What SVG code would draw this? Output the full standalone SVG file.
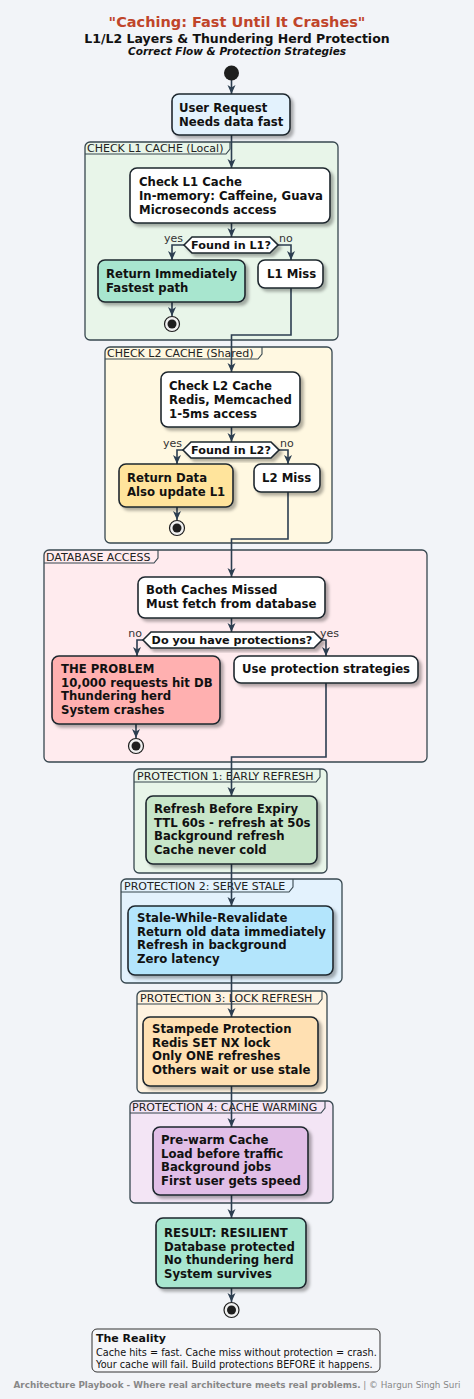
<svg xmlns="http://www.w3.org/2000/svg" width="474" height="1399" viewBox="0 0 474 1399">
<defs>
<filter id="sh" x="-10%" y="-10%" width="130%" height="140%"><feDropShadow dx="3" dy="3" stdDeviation="1.5" flood-color="#000" flood-opacity="0.3"/></filter>
<marker id="ah" markerWidth="10" markerHeight="10" refX="9" refY="5" orient="auto" markerUnits="userSpaceOnUse"><path d="M0,1 L9,5 L0,9 L2.5,5 z" fill="#2C3E50"/></marker>
<style>
.t{font-family:"DejaVu Sans",Verdana,sans-serif;}
.nb{font-family:"DejaVu Sans",sans-serif;font-weight:bold;font-size:11.7px;fill:#111;}
.db{font-family:"DejaVu Sans",sans-serif;font-weight:bold;font-size:11.2px;fill:#111;}
.lbl{font-family:"DejaVu Sans",sans-serif;font-size:11px;fill:#222;}
.yn{font-family:"DejaVu Sans",sans-serif;font-size:11px;fill:#333;}
.node{stroke:#1E272E;stroke-width:1.6;filter:url(#sh);}
.part{stroke:#37474F;stroke-width:1.3;}
.tab{fill:none;stroke:#37474F;stroke-width:1.1;}
.c{fill:none;stroke:#2C3E50;stroke-width:1.6;}
.ca{fill:none;stroke:#2C3E50;stroke-width:1.6;marker-end:url(#ah);}
</style>
</defs>
<rect width="474" height="1399" fill="#F2F4F8"/>
<g id="title">
<text x="237" y="27" text-anchor="middle" class="t" font-weight="bold" font-size="14.5" fill="#C0452A">"Caching: Fast Until It Crashes"</text>
<text x="237" y="43" text-anchor="middle" class="t" font-weight="bold" font-size="12.5" fill="#111">L1/L2 Layers &amp; Thundering Herd Protection</text>
<text x="237" y="55" text-anchor="middle" class="t" font-weight="bold" font-style="italic" font-size="10.5" fill="#111">Correct Flow &amp; Protection Strategies</text>
</g>
<!-- partitions -->
<g id="part-l1"><rect class="part" x="85" y="142" width="253" height="198" rx="5" fill="#E8F5E9"/><path class="tab" d="M85,154 H226 L230,149 V142"/><text class="lbl" x="87" y="152">CHECK L1 CACHE (Local)</text></g>
<g id="part-l2"><rect class="part" x="105" y="347" width="227" height="196" rx="5" fill="#FFF8E1"/><path class="tab" d="M105,359 H258 L262,354 V347"/><text class="lbl" x="107" y="357">CHECK L2 CACHE (Shared)</text></g>
<g id="part-db"><rect class="part" x="44" y="550" width="383" height="212" rx="5" fill="#FFEBEE"/><path class="tab" d="M44,563 H154 L158,558 V550"/><text class="lbl" x="46" y="561">DATABASE ACCESS</text></g>
<g id="part-p1"><rect class="part" x="134" y="769" width="193" height="104" rx="5" fill="#E8F5E9"/><path class="tab" d="M134,782 H316 L320,777 V769"/><text class="lbl" x="137" y="780">PROTECTION 1: EARLY REFRESH</text></g>
<g id="part-p2"><rect class="part" x="121" y="879" width="221" height="104" rx="5" fill="#E3F2FD"/><path class="tab" d="M121,892 H289 L293,887 V879"/><text class="lbl" x="124" y="890">PROTECTION 2: SERVE STALE</text></g>
<g id="part-p3"><rect class="part" x="137" y="991" width="190" height="102" rx="5" fill="#FFF3E0"/><path class="tab" d="M137,1004 H318 L322,999 V991"/><text class="lbl" x="140" y="1002">PROTECTION 3: LOCK REFRESH</text></g>
<g id="part-p4"><rect class="part" x="130" y="1101" width="203" height="102" rx="5" fill="#F3E5F5"/><path class="tab" d="M130,1113 H321 L325,1108 V1101"/><text class="lbl" x="132" y="1111">PROTECTION 4: CACHE WARMING</text></g>
<!-- connectors -->
<g id="connectors">
<path class="ca" d="M231.5,80 V94"/>
<path class="ca" d="M231.5,135 V168"/>
<path class="ca" d="M231.5,223 V237"/>
<path class="ca" d="M184,245 H172 V260"/>
<path class="ca" d="M278,245 H291 V260"/>
<path class="ca" d="M172,302 V316"/>
<path class="ca" d="M291,288 V335 H231.5 V372"/>
<path class="ca" d="M231.5,427 V442"/>
<path class="ca" d="M183,450 H177 V464"/>
<path class="ca" d="M279,450 H288 V464"/>
<path class="ca" d="M177,507 V520"/>
<path class="ca" d="M288,492 V539 H231.5 V577"/>
<path class="ca" d="M231.5,618 V632"/>
<path class="ca" d="M143,640 H137 V656"/>
<path class="ca" d="M322,640 H326 V656"/>
<path class="ca" d="M136,724 V738"/>
<path class="ca" d="M326,683 V757 H231.5 V796"/>
<path class="ca" d="M231.5,864 V906"/>
<path class="ca" d="M231.5,975 V1017"/>
<path class="ca" d="M231.5,1086 V1127"/>
<path class="ca" d="M231.5,1195 V1218"/>
<path class="ca" d="M231.5,1288 V1302"/>
<text class="yn" x="183" y="242" text-anchor="end">yes</text>
<text class="yn" x="279" y="242">no</text>
<text class="yn" x="182" y="447" text-anchor="end">yes</text>
<text class="yn" x="280" y="447">no</text>
<text class="yn" x="142" y="637" text-anchor="end">no</text>
<text class="yn" x="320" y="637">yes</text>
</g>
<!-- nodes -->
<g id="start"><circle cx="231.5" cy="73" r="7.5" fill="#1E1E1E"/></g>
<g id="user-request"><rect class="node" x="172" y="94" width="118" height="41" rx="7" fill="#E3F2FD"/><text class="nb" x="179" y="112">User Request</text><text class="nb" x="179" y="126">Needs data fast</text></g>
<g id="check-l1"><rect class="node" x="130" y="168" width="200" height="55" rx="7" fill="#FFFFFF"/><text class="nb" x="139" y="186">Check L1 Cache</text><text class="nb" x="139" y="200">In-memory: Caffeine, Guava</text><text class="nb" x="139" y="214">Microseconds access</text></g>
<g id="found-l1"><polygon class="node" points="184,245 192,237 270,237 278,245 270,253 192,253" fill="#FFFFFF"/><text class="db" x="231" y="249" text-anchor="middle">Found in L1?</text></g>
<g id="return-immediately"><rect class="node" x="98" y="260" width="147" height="42" rx="7" fill="#A8E6CF"/><text class="nb" x="106" y="278">Return Immediately</text><text class="nb" x="106" y="292">Fastest path</text></g>
<g id="l1-miss"><rect class="node" x="258" y="260" width="65" height="28" rx="7" fill="#FFFFFF"/><text class="nb" x="267" y="278">L1 Miss</text></g>
<g id="end-l1"><circle cx="172" cy="324" r="7.5" fill="#F0F0F0" stroke="#1E1E1E" stroke-width="1.2"/><circle cx="172" cy="324" r="4.5" fill="#1E1E1E"/></g>
<g id="check-l2"><rect class="node" x="161" y="372" width="139" height="55" rx="7" fill="#FFFFFF"/><text class="nb" x="169" y="390">Check L2 Cache</text><text class="nb" x="169" y="404">Redis, Memcached</text><text class="nb" x="169" y="418">1-5ms access</text></g>
<g id="found-l2"><polygon class="node" points="183,450 191,442 271,442 279,450 271,458 191,458" fill="#FFFFFF"/><text class="db" x="231" y="454" text-anchor="middle">Found in L2?</text></g>
<g id="return-data"><rect class="node" x="119" y="464" width="114" height="43" rx="7" fill="#FFE49C"/><text class="nb" x="127" y="482">Return Data</text><text class="nb" x="127" y="496">Also update L1</text></g>
<g id="l2-miss"><rect class="node" x="254" y="464" width="66" height="28" rx="7" fill="#FFFFFF"/><text class="nb" x="262" y="482">L2 Miss</text></g>
<g id="end-l2"><circle cx="177" cy="528" r="7.5" fill="#F0F0F0" stroke="#1E1E1E" stroke-width="1.2"/><circle cx="177" cy="528" r="4.5" fill="#1E1E1E"/></g>
<g id="both-missed"><rect class="node" x="138" y="577" width="187" height="41" rx="7" fill="#FFFFFF"/><text class="nb" x="146" y="594">Both Caches Missed</text><text class="nb" x="146" y="608">Must fetch from database</text></g>
<g id="protections"><polygon class="node" points="143,640 151,632 314,632 322,640 314,648 151,648" fill="#FFFFFF"/><text class="db" x="232" y="644" text-anchor="middle">Do you have protections?</text></g>
<g id="the-problem"><rect class="node" x="52" y="656" width="168" height="68" rx="7" fill="#FFB0B0"/><text class="nb" x="61" y="673">THE PROBLEM</text><text class="nb" x="61" y="687">10,000 requests hit DB</text><text class="nb" x="61" y="700">Thundering herd</text><text class="nb" x="61" y="714">System crashes</text></g>
<g id="use-protection"><rect class="node" x="234" y="656" width="184" height="27" rx="7" fill="#FFFFFF"/><text class="nb" x="242" y="673">Use protection strategies</text></g>
<g id="end-db"><circle cx="136" cy="746" r="7.5" fill="#F0F0F0" stroke="#1E1E1E" stroke-width="1.2"/><circle cx="136" cy="746" r="4.5" fill="#1E1E1E"/></g>
<g id="early-refresh"><rect class="node" x="146" y="796" width="171" height="68" rx="7" fill="#C8E6C9"/><text class="nb" x="154" y="813">Refresh Before Expiry</text><text class="nb" x="154" y="827">TTL 60s - refresh at 50s</text><text class="nb" x="154" y="840">Background refresh</text><text class="nb" x="154" y="854">Cache never cold</text></g>
<g id="serve-stale"><rect class="node" x="128" y="906" width="205" height="69" rx="7" fill="#B3E5FC"/><text class="nb" x="137" y="922">Stale-While-Revalidate</text><text class="nb" x="137" y="936">Return old data immediately</text><text class="nb" x="137" y="949">Refresh in background</text><text class="nb" x="137" y="963">Zero latency</text></g>
<g id="lock-refresh"><rect class="node" x="143" y="1017" width="175" height="69" rx="7" fill="#FFE0B2"/><text class="nb" x="152" y="1033">Stampede Protection</text><text class="nb" x="152" y="1047">Redis SET NX lock</text><text class="nb" x="152" y="1060">Only ONE refreshes</text><text class="nb" x="152" y="1074">Others wait or use stale</text></g>
<g id="cache-warming"><rect class="node" x="153" y="1127" width="155" height="68" rx="7" fill="#E1BEE7"/><text class="nb" x="161" y="1144">Pre-warm Cache</text><text class="nb" x="161" y="1158">Load before traffic</text><text class="nb" x="161" y="1171">Background jobs</text><text class="nb" x="161" y="1185">First user gets speed</text></g>
<g id="result"><rect class="node" x="156" y="1218" width="150" height="70" rx="7" fill="#A8E6CF"/><text class="nb" x="164" y="1237" font-size="13">RESULT: RESILIENT</text><text class="nb" x="164" y="1251">Database protected</text><text class="nb" x="164" y="1264">No thundering herd</text><text class="nb" x="164" y="1278">System survives</text></g>
<g id="end-final"><circle cx="231.5" cy="1310" r="7.5" fill="#F0F0F0" stroke="#1E1E1E" stroke-width="1.2"/><circle cx="231.5" cy="1310" r="4.5" fill="#1E1E1E"/></g>
<g id="legend"><rect x="92" y="1329" width="288" height="43" rx="5" fill="#F5F6F9" stroke="#333" stroke-width="1"/><text class="t" x="96" y="1342" font-weight="bold" font-size="11" fill="#111">The Reality</text><text class="t" x="96" y="1356" font-size="9.7" fill="#111">Cache hits = fast. Cache miss without protection = crash.</text><text class="t" x="96" y="1368" font-size="9.7" fill="#111">Your cache will fail. Build protections BEFORE it happens.</text></g>
<g id="footer"><text class="t" x="237" y="1388" text-anchor="middle" font-size="8.8" fill="#888"><tspan font-weight="bold">Architecture Playbook - Where real architecture meets real problems.</tspan> | © Hargun Singh Suri</text></g>
</svg>
